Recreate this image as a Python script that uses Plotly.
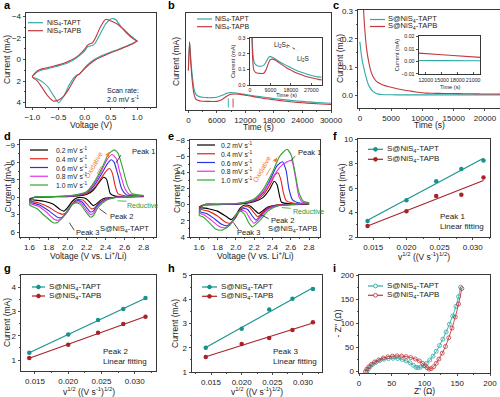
import numpy as np
import plotly.graph_objects as go

W, H = 500, 397
FONT = "Arial, 'Liberation Sans', sans-serif"
INK = "#222222"
TEAL = "#2fa9a6"
RED = "#c2383e"
TEAL_F = "#16938d"
RED_F = "#a82329"
CV_COLORS = ["#000000", "#e2231a", "#2b33e0", "#e233e6", "#33a532"]
ORANGE = "#f07c2a"
GREEN_T = "#2e9a2e"

# ---------------- panel a : CV of NiS4 electrodes ----------------
a_up_v = [-1.0, -0.9, -0.8, -0.7, -0.6, -0.5, -0.4, -0.3, -0.2, -0.1, 0.0, 0.05, 0.1, 0.15, 0.2, 0.3, 0.4, 0.5, 0.55, 0.6, 0.7, 0.8, 0.9, 1.0]
a_up_tapt = [1.6, 1.15, 0.95, 0.85, 0.72, 0.6, 0.45, 0.25, 0.0, -0.35, -0.8, -1.15, -1.25, -1.3, -1.5, -2.4, -3.3, -3.75, -3.78, -3.65, -3.0, -2.55, -2.1, -1.7]
a_up_tapb = [1.6, 1.05, 0.85, 0.75, 0.62, 0.5, 0.35, 0.15, -0.1, -0.45, -0.95, -1.3, -1.45, -1.55, -1.95, -3.0, -3.72, -3.55, -3.45, -3.35, -2.95, -2.45, -2.0, -1.7]
a_dn_v = [1.0, 0.9, 0.8, 0.7, 0.6, 0.5, 0.4, 0.3, 0.2, 0.1, 0.0, -0.1, -0.15, -0.2, -0.3, -0.4, -0.5, -0.6, -0.7, -0.8, -0.9, -1.0]
a_dn_tapt = [-1.7, -1.45, -1.25, -1.05, -0.85, -0.7, -0.5, -0.3, -0.05, 0.3, 0.75, 1.35, 1.45, 1.65, 2.4, 3.4, 4.0, 3.3, 2.55, 2.1, 1.8, 1.6]
a_dn_tapb = [-1.7, -1.4, -1.2, -1.0, -0.8, -0.62, -0.42, -0.2, 0.05, 0.4, 0.85, 1.35, 1.5, 1.85, 2.7, 3.4, 3.75, 3.85, 3.4, 2.7, 2.0, 1.6]

# ---------------- panel b : potentiostatic discharge ----------------
b_t = [0, 250, 500, 800, 1200, 1600, 2000, 2500, 3000, 4000, 5000, 6000, 7000, 8000, 8500, 9000, 10000, 11000, 12000, 14000, 16000, 18000, 20000, 22000, 24000, 26000, 28000, 30000, 31500]
b_tapt = [0.45, 0.8, 0.6, 0.4, 0.22, 0.16, 0.14, 0.13, 0.125, 0.12, 0.12, 0.125, 0.145, 0.172, 0.18, 0.181, 0.176, 0.168, 0.158, 0.14, 0.125, 0.11, 0.096, 0.085, 0.075, 0.066, 0.058, 0.052, 0.049]
b_tapb = [0.45, 0.8, 0.55, 0.33, 0.16, 0.1, 0.088, 0.08, 0.077, 0.075, 0.073, 0.075, 0.095, 0.135, 0.152, 0.162, 0.165, 0.16, 0.15, 0.13, 0.11, 0.095, 0.08, 0.068, 0.058, 0.05, 0.043, 0.036, 0.033]
b_peak_t = [8400, 9400]

# ---------------- panel c : self-discharge current ----------------
c_t = [0, 200, 400, 600, 800, 1100, 1400, 1700, 2100, 2600, 3500, 5000, 7000, 9000, 10500, 12000, 13500, 15000, 16500, 18000, 19500, 21000, 22500]
c_tapt = [0.19, 0.15, 0.12, 0.1, 0.08, 0.055, 0.035, 0.024, 0.013, 0.006, 0.002, 0.001, 0.0008, 0.0008, 0.0008, 0.0008, 0.0007, 0.0008, 0.0006, 0.0007, 0.0006, 0.0006, 0.0005]
c_tapb = [0.9, 0.7, 0.48, 0.3, 0.23, 0.16, 0.12, 0.09, 0.066, 0.05, 0.038, 0.028, 0.018, 0.011, 0.0068, 0.0062, 0.0058, 0.0054, 0.005, 0.0045, 0.0041, 0.0036, 0.0032]

# ---------------- panel d : CV of S@NiS4-TAPT at scan rates ----------------
rates = ["0.2", "0.4", "0.6", "0.8", "1.0"]
d_v = [
    [1.6, 1.65, 1.8, 2.0, 2.1, 2.2, 2.27, 2.33, 2.38, 2.41, 2.43, 2.45, 2.5, 2.65, 2.8,
     2.5, 2.4, 2.35, 2.3, 2.27, 2.24, 2.2, 2.15, 2.1, 2.05, 2.0, 1.96, 1.92, 1.85, 1.75, 1.6],
    [1.6, 1.65, 1.8, 2.0, 2.1, 2.2, 2.28, 2.35, 2.41, 2.44, 2.47, 2.5, 2.53, 2.6, 2.8,
     2.5, 2.4, 2.33, 2.28, 2.25, 2.21, 2.16, 2.1, 2.05, 2.0, 1.95, 1.9, 1.8, 1.7, 1.6],
    [1.6, 1.65, 1.8, 2.0, 2.1, 2.2, 2.28, 2.35, 2.42, 2.46, 2.49, 2.53, 2.57, 2.62, 2.8,
     2.5, 2.4, 2.32, 2.27, 2.24, 2.2, 2.15, 2.1, 2.05, 2.0, 1.94, 1.9, 1.8, 1.7, 1.6],
    [1.6, 1.65, 1.8, 2.0, 2.1, 2.2, 2.28, 2.35, 2.42, 2.47, 2.51, 2.55, 2.6, 2.65, 2.8,
     2.5, 2.4, 2.32, 2.27, 2.24, 2.2, 2.14, 2.09, 2.04, 1.98, 1.92, 1.87, 1.78, 1.7, 1.6],
    [1.6, 1.65, 1.8, 2.0, 2.1, 2.2, 2.28, 2.36, 2.43, 2.49, 2.53, 2.58, 2.63, 2.68, 2.8,
     2.5, 2.4, 2.32, 2.27, 2.24, 2.2, 2.13, 2.08, 2.02, 1.96, 1.9, 1.85, 1.76, 1.68, 1.6],
]
d_i = [
    [0.35, 0.05, -0.05, -0.1, -0.2, -0.45, -1.2, -2.5, -3.45, -3.1, -1.8, -0.6, -0.2, -0.1, -0.1,
     0.0, 0.15, 0.5, 1.2, 1.45, 1.0, 0.3, 0.05, 0.1, 0.7, 1.8, 2.4, 2.1, 1.2, 0.7, 0.35],
    [0.6, 0.0, -0.1, -0.15, -0.3, -0.6, -1.6, -3.2, -4.6, -4.95, -4.2, -2.0, -0.6, -0.25, -0.15,
     0.0, 0.3, 1.0, 1.9, 2.0, 1.3, 0.5, 0.4, 1.1, 2.4, 2.95, 2.7, 1.7, 1.0, 0.6],
    [0.8, 0.0, -0.1, -0.2, -0.35, -0.75, -2.0, -3.8, -5.8, -6.45, -6.0, -3.8, -1.4, -0.4, -0.2,
     0.0, 0.4, 1.3, 2.4, 2.55, 1.8, 0.8, 0.6, 1.2, 2.5, 3.5, 3.5, 2.3, 1.3, 0.8],
    [1.0, 0.0, -0.1, -0.2, -0.4, -0.85, -2.3, -4.3, -6.6, -7.35, -6.7, -4.3, -1.6, -0.5, -0.25,
     0.05, 0.5, 1.5, 2.8, 3.0, 2.3, 1.0, 0.8, 1.4, 2.9, 3.9, 3.9, 2.6, 1.6, 1.0],
    [1.3, 0.0, -0.1, -0.2, -0.45, -0.95, -2.6, -5.0, -7.4, -8.15, -7.6, -5.0, -2.0, -0.6, -0.3,
     0.1, 0.6, 1.8, 3.2, 3.45, 2.7, 1.2, 1.0, 1.7, 3.2, 4.3, 4.4, 3.2, 2.0, 1.3],
]

# ---------------- panel e : CV of S@NiS4-TAPB at scan rates ----------------
e_v = [
    [1.6, 1.65, 1.8, 2.0, 2.1, 2.2, 2.3, 2.37, 2.42, 2.45, 2.48, 2.5, 2.6, 2.8,
     2.45, 2.35, 2.29, 2.25, 2.21, 2.16, 2.1, 2.05, 2.0, 1.95, 1.9, 1.8, 1.7, 1.6],
    [1.6, 1.65, 1.8, 2.0, 2.1, 2.2, 2.3, 2.38, 2.43, 2.46, 2.49, 2.52, 2.55, 2.65, 2.8,
     2.45, 2.35, 2.28, 2.24, 2.2, 2.15, 2.1, 2.05, 2.0, 1.94, 1.88, 1.8, 1.7, 1.6],
    [1.6, 1.65, 1.8, 2.0, 2.1, 2.2, 2.3, 2.38, 2.45, 2.51, 2.55, 2.58, 2.62, 2.7, 2.8,
     2.45, 2.35, 2.27, 2.22, 2.18, 2.13, 2.08, 2.03, 1.97, 1.9, 1.84, 1.75, 1.68, 1.6],
    [1.6, 1.65, 1.8, 2.0, 2.1, 2.2, 2.3, 2.4, 2.48, 2.56, 2.61, 2.65, 2.69, 2.73, 2.8,
     2.45, 2.35, 2.26, 2.2, 2.16, 2.11, 2.06, 2.01, 1.95, 1.88, 1.82, 1.73, 1.66, 1.6],
    [1.6, 1.65, 1.8, 2.0, 2.1, 2.2, 2.3, 2.4, 2.48, 2.56, 2.61, 2.65, 2.69, 2.74, 2.8,
     2.45, 2.35, 2.26, 2.18, 2.14, 2.09, 2.05, 2.0, 1.93, 1.85, 1.78, 1.7, 1.64, 1.6],
]
e_i = [
    [0.3, 0.05, 0.0, -0.05, -0.15, -0.35, -0.9, -1.9, -2.9, -2.5, -1.0, -0.3, -0.1, -0.05,
     0.05, 0.3, 0.8, 1.1, 0.7, 0.2, 0.05, 0.4, 1.3, 1.85, 1.5, 0.8, 0.5, 0.3],
    [0.5, 0.0, -0.05, -0.1, -0.2, -0.45, -1.2, -2.6, -3.7, -3.95, -3.2, -1.5, -0.5, -0.15, -0.1,
     0.05, 0.4, 1.1, 1.5, 1.0, 0.35, 0.25, 0.6, 1.6, 2.3, 2.1, 1.4, 0.8, 0.5],
    [0.8, 0.0, -0.05, -0.1, -0.25, -0.55, -1.5, -3.2, -4.8, -5.3, -4.2, -2.0, -0.6, -0.2, -0.15,
     0.1, 0.5, 1.4, 1.9, 1.4, 0.6, 0.5, 0.9, 2.0, 2.6, 2.4, 1.6, 1.1, 0.8],
    [1.0, 0.0, -0.05, -0.15, -0.3, -0.6, -1.6, -3.3, -4.6, -5.3, -5.45, -3.5, -1.0, -0.3, -0.2,
     0.15, 0.6, 1.7, 2.3, 1.8, 0.9, 0.7, 1.1, 2.3, 2.85, 2.7, 1.9, 1.3, 1.0],
    [1.3, 0.0, -0.05, -0.15, -0.3, -0.7, -1.9, -4.0, -6.0, -6.85, -6.0, -3.8, -1.5, -0.4, -0.25,
     0.2, 0.8, 2.0, 2.75, 2.2, 1.1, 0.8, 1.3, 2.6, 3.15, 3.0, 2.1, 1.5, 1.3],
]

# ---------------- panels f, g, h : peak current vs sqrt(scan rate) ----------------
sqrt_v = [0.01414, 0.02, 0.02449, 0.02828, 0.03162]
f_tapt = [3.3, 5.0, 6.55, 7.55, 8.25]
f_tapb = [2.9, 4.1, 5.35, 5.45, 6.85]
g_tapt = [1.3, 2.05, 2.65, 3.1, 3.55]
g_tapb = [1.08, 1.63, 2.12, 2.48, 2.78]
h_tapt = [2.0, 2.78, 3.58, 4.02, 4.42]
h_tapb = [1.62, 2.15, 2.4, 2.73, 3.05]

# ---------------- panel i : Nyquist ----------------
i_re_tapt = [12, 14, 17, 21, 26, 32, 38, 45, 52, 59, 66, 72, 78, 83, 87, 90, 94, 98, 103, 108, 113, 118, 123, 128, 133, 138, 143, 148, 152, 155]
i_im_tapt = [0, 5, 10, 15, 19, 23, 25.5, 27, 27.5, 27, 25, 22, 18, 13, 9, 8, 9, 12, 17, 24, 32, 42, 54, 67, 82, 98, 115, 135, 155, 175]
i_re_tapb = [10, 12, 15, 19, 24, 30, 37, 44, 51, 58, 65, 72, 79, 86, 92, 97, 101, 104, 107, 110, 114, 118, 122, 127, 132, 137, 142, 147, 152, 157]
i_im_tapb = [0, 5, 10, 15, 20, 24, 28, 30.5, 32, 32.5, 32, 31, 29, 26, 22, 17, 12, 8, 5, 6, 10, 17, 26, 38, 52, 70, 90, 113, 140, 172]

fig = go.Figure()
shapes = []
annos = []


def px_x(p):
    return p / W


def px_y(p):
    return 1 - p / H


def axis_keys(n):
    return ("xaxis" if n == 1 else f"xaxis{n}", "yaxis" if n == 1 else f"yaxis{n}",
            "x" if n == 1 else f"x{n}", "y" if n == 1 else f"y{n}")


def title_anno(text, x, y, fs, angle=0):
    annos.append(dict(xref="paper", yref="paper", x=px_x(x), y=px_y(y), text=text, showarrow=False,
                      xanchor="center", yanchor="middle", textangle=angle,
                      font=dict(size=fs, color=INK, family=FONT)))


def make_axes(n, xpx, ypx, xr, yr, xtitle, ytitle, xd, yd, xt_y, yt_x, xfmt=None, yfmt=None,
              xminor=None, yminor=None, fs=8, ts=8.5, ylabels=True, xtickvals=None, yticks="outside",
              xticks="outside"):
    xk, yk, xa, ya = axis_keys(n)
    common = dict(showline=True, mirror=True, linecolor=INK, linewidth=0.9, automargin=False,
                  ticklen=2.5, tickwidth=0.8, tickcolor=INK, tickangle=0,
                  showgrid=False, zeroline=False, tickfont=dict(size=fs, color=INK, family=FONT))
    xax = dict(common, ticks=xticks, domain=[px_x(xpx[0]), px_x(xpx[1])], range=xr, anchor=ya,
               dtick=xd, tick0=0)
    if xtickvals is not None:
        xax.pop("dtick")
        xax["tickvals"] = xtickvals
    if xfmt:
        xax["tickformat"] = xfmt
    if xminor:
        xax["minor"] = dict(ticks="outside", ticklen=1.5, tickcolor=INK, dtick=xminor, tick0=0)
    yax = dict(common, ticks=yticks, domain=[px_y(ypx[1]), px_y(ypx[0])], range=yr, anchor=xa,
               dtick=yd, tick0=0, showticklabels=ylabels)
    if yfmt:
        yax["tickformat"] = yfmt
    if yminor and yticks:
        yax["minor"] = dict(ticks="outside", ticklen=1.5, tickcolor=INK, dtick=yminor, tick0=0)
    fig.layout[xk] = xax
    fig.layout[yk] = yax
    title_anno(xtitle, (xpx[0] + xpx[1]) / 2, xt_y, ts)
    title_anno(ytitle, yt_x, (ypx[0] + ypx[1]) / 2, ts, angle=-90)
    return xa, ya


VSQ = "v<sup>1/2</sup> ((V s<sup>-1</sup>)<sup>1/2</sup>)"
VLI = "Voltage (V vs. Li<sup>+</sup>/Li)"
CUR = "Current (mA)"
ax_a = make_axes(1, (26, 156), (13, 107), [-1.12, 1.36], [4.4, -4.3], "Voltage (V)", CUR,
                 0.5, 2, 125, 7, xfmt=".1f", xminor=0.25, yminor=1)
ax_b = make_axes(2, (186, 331), (13, 110), [-500, 30000], [-0.03, 1.15], "Time (s)", CUR,
                 6000, 0.2, 127, 176.5, xfmt="d", xminor=3000, ylabels=False, yticks="")
ax_c = make_axes(3, (358, 500), (10, 108), [-300, 22400], [-0.046, 0.303], "Time (s)", CUR,
                 5000, 0.1, 125, 340, xfmt="d", yfmt=".1f", xminor=2500, yminor=0.05)
ax_d = make_axes(4, (20, 156), (140, 237), [1.5, 2.93], [6.86, -9.86], VLI, CUR,
                 0.2, 3, 255, 7, xfmt=".1f", xminor=0.1, yminor=1.5)
ax_e = make_axes(5, (190, 320), (140, 237), [1.5, 2.92], [4, -8], VLI, CUR,
                 0.2, 2, 255, 176.5, xfmt=".1f", xminor=0.1, yminor=1)
ax_f = make_axes(6, (358, 490), (139, 237), [0.0127, 0.0326], [2, 10], VSQ, CUR,
                 0.005, 2, 256, 341.5, xfmt=".3f", xminor=0.0025, yminor=1)
ax_g = make_axes(7, (21, 156), (275, 371), [0.0129, 0.0332], [0.55, 4.5], VSQ, CUR,
                 0.005, 1, 391, 7, xfmt=".3f", xminor=0.0025, yminor=0.5)
ax_h = make_axes(8, (192, 322), (275, 372), [0.0119, 0.0331], [1, 5], VSQ, CUR,
                 0.005, 1, 391, 174.5, xfmt=".3f", xminor=0.0025, yminor=0.5)
ax_i = make_axes(9, (359, 490), (275, 373), [0, 200], [-3, 200], "Z' (Ω)", "- Z'' (Ω)", 50, 50,
                 391, 337.5, xminor=25, yminor=25)
ax_bi = make_axes(10, (250, 322), (38, 85), [0, 31700], [0, 0.3], "Time (s)", CUR,
                  9000, 0.1, 94.5, 233.5, xfmt="d", yfmt=".1f", fs=5.3, ts=5.8, xticks="inside")
ax_ci = make_axes(11, (419, 480), (36, 74.5), [10700, 22300], [-0.0105, 0.0205], "Time (s)", CUR,
                  3000, 0.01, 86.5, 397, xfmt="d", yfmt=".2f", fs=5.3, ts=5.6,
                  xtickvals=[12000, 15000, 18000, 21000], xticks="inside")


def line(ax, x, y, color, width=1.1, shape="linear", dash=None):
    fig.add_trace(go.Scatter(x=x, y=y, mode="lines", xaxis=ax[0], yaxis=ax[1],
                             line=dict(color=color, width=width, shape=shape, dash=dash,
                                       smoothing=0.6 if shape == "spline" else None),
                             showlegend=False, hoverinfo="skip"))


# a
line(ax_a, a_up_v + a_dn_v, a_up_tapt + a_dn_tapt, TEAL, shape="spline")
line(ax_a, a_up_v + a_dn_v, a_up_tapb + a_dn_tapb, RED, shape="spline")
# b
line(ax_b, b_t, b_tapt, TEAL, shape="spline")
line(ax_b, b_t, b_tapb, RED, shape="spline")
line(ax_b, [b_peak_t[0]] * 2, [0, 0.2], TEAL, width=0.9, dash="dash")
line(ax_b, [b_peak_t[1]] * 2, [0, 0.2], RED, width=0.9, dash="dash")
line(ax_bi, b_t, b_tapt, TEAL, shape="spline")
line(ax_bi, b_t, b_tapb, RED, shape="spline")
# c
line(ax_c, c_t, c_tapt, TEAL, shape="spline")
line(ax_c, c_t, c_tapb, RED, shape="spline")
line(ax_ci, c_t, c_tapt, TEAL)
line(ax_ci, c_t, c_tapb, RED)
# d, e
for k in range(5):
    line(ax_d, d_v[k], d_i[k], CV_COLORS[k], width=1.1, shape="spline")
    line(ax_e, e_v[k], e_i[k], CV_COLORS[k], width=1.1, shape="spline")


# f g h
def fit_panel(ax, ya, yb):
    for ys, col in ((ya, TEAL_F), (yb, RED_F)):
        p = np.polyfit(sqrt_v, ys, 1)
        xs = [sqrt_v[0], sqrt_v[-1]]
        fig.add_trace(go.Scatter(x=xs, y=list(np.polyval(p, xs)), mode="lines", xaxis=ax[0], yaxis=ax[1],
                                 line=dict(color=col, width=1.1), showlegend=False, hoverinfo="skip"))
        fig.add_trace(go.Scatter(x=sqrt_v, y=ys, mode="markers", xaxis=ax[0], yaxis=ax[1],
                                 marker=dict(color=col, size=4.5), showlegend=False, hoverinfo="skip"))


fit_panel(ax_f, f_tapt, f_tapb)
fit_panel(ax_g, g_tapt, g_tapb)
fit_panel(ax_h, h_tapt, h_tapb)

# i
for xs, ys, col in ((i_re_tapt, i_im_tapt, TEAL), (i_re_tapb, i_im_tapb, RED)):
    fig.add_trace(go.Scatter(x=xs, y=ys, mode="lines+markers", xaxis=ax_i[0], yaxis=ax_i[1],
                             line=dict(color=col, width=0.9, shape="spline"),
                             marker=dict(symbol="circle-open", size=4, color=col, line=dict(width=0.8)),
                             showlegend=False, hoverinfo="skip"))


def legend(x0, x1, xt, ys, entries, fs=7.5, marker=None, lw=1.2):
    for (label, col), y in zip(entries, ys):
        shapes.append(dict(type="line", xref="paper", yref="paper", x0=px_x(x0), x1=px_x(x1),
                           y0=px_y(y), y1=px_y(y), line=dict(color=col, width=lw)))
        if marker:
            cx = (x0 + x1) / 2
            r = 1.9
            shapes.append(dict(type="circle", xref="paper", yref="paper",
                               x0=px_x(cx - r), x1=px_x(cx + r), y0=px_y(y + r), y1=px_y(y - r),
                               line=dict(color=col, width=0.9),
                               fillcolor=col if marker == "filled" else "white"))
        annos.append(dict(xref="paper", yref="paper", x=px_x(xt), y=px_y(y), text=label, showarrow=False,
                          xanchor="left", yanchor="middle", font=dict(size=fs, color=INK, family=FONT)))


nis_a = ["NiS<sub>4</sub>-TAPT", "NiS<sub>4</sub>-TAPB"]
snis = ["S@NiS<sub>4</sub>-TAPT", "S@NiS<sub>4</sub>-TAPB"]
legend(28, 43, 45, [22.7, 30.7], list(zip(nis_a, [TEAL, RED])), fs=7)
legend(197, 212, 213, [19, 26.7], list(zip(nis_a, [TEAL, RED])), fs=7)
legend(370, 385, 386, [19.5, 26.5], list(zip(snis, [TEAL, RED])), fs=7.5)
rate_labels = [f"{r} mV s<sup>-1</sup>" for r in rates]
legend(30, 48, 54, [150, 158.75, 167.5, 176.25, 185], list(zip(rate_labels, CV_COLORS)), fs=6.8)
legend(197, 215, 219, [145, 153.75, 162.5, 171.25, 180], list(zip(rate_labels, CV_COLORS)), fs=6.8)
legend(368, 383, 385, [149.3, 159.3], list(zip(snis, [TEAL_F, RED_F])), fs=8, marker="filled")
legend(32, 45, 47, [287, 296], list(zip(snis, [TEAL_F, RED_F])), fs=8, marker="filled")
legend(202, 217, 219, [287, 296.3], list(zip(snis, [TEAL_F, RED_F])), fs=8, marker="filled")
legend(368, 383, 385, [286, 295.3], list(zip(snis, [TEAL, RED])), fs=8, marker="open")

# panel letters
for letter, (lx, ly) in zip("abcdefghi", [(2, 5), (166, 5), (331, 5), (2, 136), (166, 136), (331, 136),
                                          (2, 268), (166, 268), (331, 268)]):
    annos.append(dict(xref="paper", yref="paper", x=px_x(lx), y=px_y(ly), text=f"<b>{letter}</b>",
                      showarrow=False, xanchor="left", yanchor="middle",
                      font=dict(size=11, color="#000", family=FONT)))


def txt(ax, x, y, text, fs=7.5, color=INK, anchor="left", angle=0):
    annos.append(dict(xref=ax[0], yref=ax[1], x=x, y=y, text=text, showarrow=False, xanchor=anchor,
                      yanchor="middle", textangle=angle, font=dict(size=fs, color=color, family=FONT)))


def darrow(ax, x0, y0, x1, y1, color=INK, dash="dash"):
    shapes.append(dict(type="line", xref=ax[0], yref=ax[1], x0=x0, y0=y0, x1=x1, y1=y1,
                       line=dict(color=color, width=0.8, dash=dash)))
    annos.append(dict(xref=ax[0], yref=ax[1], axref=ax[0], ayref=ax[1], x=x1, y=y1,
                      ax=x1 - 0.15 * (x1 - x0), ay=y1 - 0.15 * (y1 - y0), text="", showarrow=True,
                      arrowhead=2, arrowsize=1.1, arrowwidth=0.8, arrowcolor=color))


# a text
annos.append(dict(xref="paper", yref="paper", x=px_x(105), y=px_y(95.5),
                  text="Scan rate:<br>2.0 mV s<sup>-1</sup>", showarrow=False, xanchor="left", yanchor="middle",
                  align="left", font=dict(size=7, color=INK, family=FONT)))
# b inset text
txt(ax_bi, 9900, 0.257, "Li<sub>2</sub>S<sub>x</sub>", fs=6.5)
txt(ax_bi, 19800, 0.167, "Li<sub>2</sub>S", fs=6.5)
darrow(ax_bi, 16400, 0.257, 21100, 0.218, dash="dot")

# d text
txt(ax_d, 2.66, -7.9, "Peak 1")
darrow(ax_d, 2.56, -7.25, 2.48, -5.1)
txt(ax_d, 2.27, -5.5, "Oxidative", fs=7, color=ORANGE, anchor="center", angle=-60)
darrow(ax_d, 2.31, -4.0, 2.44, -7.8, color=ORANGE)
txt(ax_d, 2.6, 1.5, "Reductive", fs=7, color=GREEN_T)
darrow(ax_d, 2.62, 0.7, 2.49, 0.6, color=GREEN_T)
txt(ax_d, 2.43, 3.3, "Peak 2")
darrow(ax_d, 2.41, 2.9, 2.285, 1.4)
txt(ax_d, 2.07, 6.1, "Peak 3")
darrow(ax_d, 2.07, 5.7, 1.965, 3.0)
txt(ax_d, 2.6, 5.5, "S@NiS<sub>4</sub>-TAPT", anchor="center")

# e text
txt(ax_e, 2.66, -6.4, "Peak 1")
darrow(ax_e, 2.65, -6.0, 2.6, -5.45)
txt(ax_e, 2.28, -4.4, "Oxidative", fs=7, color=ORANGE, anchor="center", angle=-60)
darrow(ax_e, 2.33, -3.6, 2.45, -5.8, color=ORANGE)
txt(ax_e, 2.6, 0.9, "Reductive", fs=7, color=GREEN_T)
darrow(ax_e, 2.6, 0.45, 2.49, 0.35, color=GREEN_T)
txt(ax_e, 2.36, 2.0, "Peak 2")
darrow(ax_e, 2.36, 1.75, 2.26, 1.15)
txt(ax_e, 2.33, 3.0, "S@NiS<sub>4</sub>-TAPB")
txt(ax_e, 1.99, 3.5, "Peak 3")
darrow(ax_e, 2.03, 3.1, 1.955, 1.9)

# f g h text
for pk, (tx, ty) in (("Peak 1", (438, 216.7)), ("Peak 2", (101, 351.3)), ("Peak 3", (271, 351.3))):
    annos.append(dict(xref="paper", yref="paper", x=px_x(tx), y=px_y(ty + 5),
                      text=f"{pk}<br>Linear fitting", showarrow=False, xanchor="left", yanchor="middle",
                      align="left", font=dict(size=8, color=INK, family=FONT)))

fig.update_layout(width=W, height=H, margin=dict(l=0, r=0, t=0, b=0, autoexpand=False), paper_bgcolor="white",
                  plot_bgcolor="white", showlegend=False, font=dict(family=FONT, size=8, color=INK),
                  shapes=shapes, annotations=annos)
fig.write_html("out.html", config={"displayModeBar": False, "staticPlot": True},
               post_script="document.body.style.margin='0';document.body.style.overflow='hidden';")
